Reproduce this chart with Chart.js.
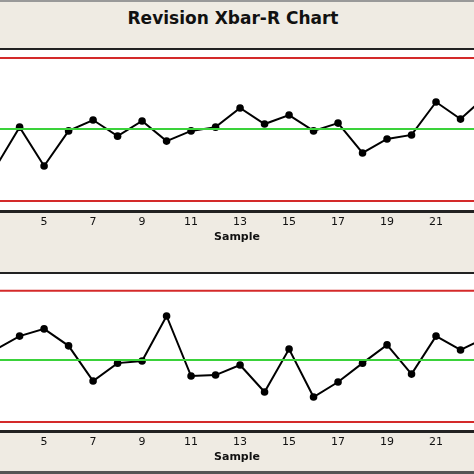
<!DOCTYPE html>
<html><head><meta charset="utf-8">
<script src="https://cdn.jsdelivr.net/npm/chart.js@4"></script>
<style>
html,body{margin:0;padding:0;width:474px;height:474px;background:#efebe3;overflow:hidden;font-family:"DejaVu Sans",sans-serif}
#t{position:absolute;left:0;top:8px;width:466px;text-align:center;font-weight:bold;font-size:17px;color:#111}
#topline{position:absolute;left:0;top:0;width:474px;height:2px;background:#999}
#botline{position:absolute;left:0;top:471px;width:474px;height:3px;background:#555}
canvas{position:absolute;left:0}
</style></head><body>
<div id="topline"></div><div id="t">Revision Xbar-R Chart</div>
<div style="position:absolute;top:44px;left:-4px;width:482px;height:202px"><canvas id="c1"></canvas></div>
<div style="position:absolute;top:268px;left:-4px;width:482px;height:198px"><canvas id="c2"></canvas></div>
<div id="botline"></div>
<script>
const samples=[3,4,5,6,7,8,9,10,11,12,13,14,15,16,17,18,19,20,21,22,23];
const xbar=[8.35,10.08,8.44,9.92,10.38,9.70,10.34,9.49,9.92,10.08,10.89,10.21,10.59,9.92,10.25,8.99,9.58,9.75,11.14,10.42,11.35];
const xbarLimits={ucl:13.0,center:10.0,lcl:6.96};
const ranges=[4.32,4.76,4.99,4.45,3.33,3.90,3.97,5.40,3.49,3.52,3.84,2.98,4.35,2.82,3.30,3.90,4.48,3.55,4.76,4.32,4.70];
const rLimits={ucl:6.2,center:4.0,lcl:2.03};
const xRange=[3.2,22.55];
const tickLabels=[5,7,9,11,13,15,17,19,21];

const bgPlugin={id:'bg',beforeDraw(c){const a=c.chartArea,x=c.ctx;x.save();x.fillStyle='#fff';x.fillRect(a.left,a.top,a.right-a.left,a.bottom-a.top);x.strokeStyle='#222';x.lineWidth=2;x.beginPath();x.moveTo(a.left,a.top+1);x.lineTo(a.right,a.top+1);x.stroke();x.restore();}};
function make(id,vals,lim,ymin,ymax){
  const line=(v,col)=>({data:[{x:xRange[0],y:v},{x:xRange[1],y:v}],borderColor:col,borderWidth:2,pointRadius:0,fill:false});
  new Chart(document.getElementById(id),{type:'line',plugins:[bgPlugin],
    data:{datasets:[line(lim.ucl,'#d42a2a'),line(lim.lcl,'#d42a2a'),line(lim.center,'#3ad23a'),
      {data:samples.map((s,i)=>({x:s,y:vals[i]})),borderColor:'#000',borderWidth:2,pointRadius:3.8,pointBackgroundColor:'#000',pointBorderWidth:0,tension:0}]},
    options:{animation:false,responsive:true,maintainAspectRatio:false,layout:{padding:0},
      plugins:{legend:{display:false},tooltip:{enabled:false}},
      scales:{
        y:{display:false,min:ymin,max:ymax},
        x:{type:'linear',min:xRange[0],max:xRange[1],
          afterBuildTicks(s){s.ticks=tickLabels.map(v=>({value:v}));},
          afterFit(s){s.height=35;s.paddingLeft=0;s.paddingRight=0;},
          grid:{display:false,drawTicks:false},border:{display:true,color:'#222',width:3},
          ticks:{padding:5,maxRotation:0,autoSkip:false,color:'#111',font:{family:'DejaVu Sans',size:11}},
          title:{display:true,text:'Sample',color:'#111',padding:{top:0,bottom:2},font:{family:'DejaVu Sans',size:11,weight:'bold'}}}
      }}});
}
make('c1',xbar,xbarLimits,6.54,13.42);
make('c2',ranges,rLimits,1.74,6.80);
</script></body></html>
